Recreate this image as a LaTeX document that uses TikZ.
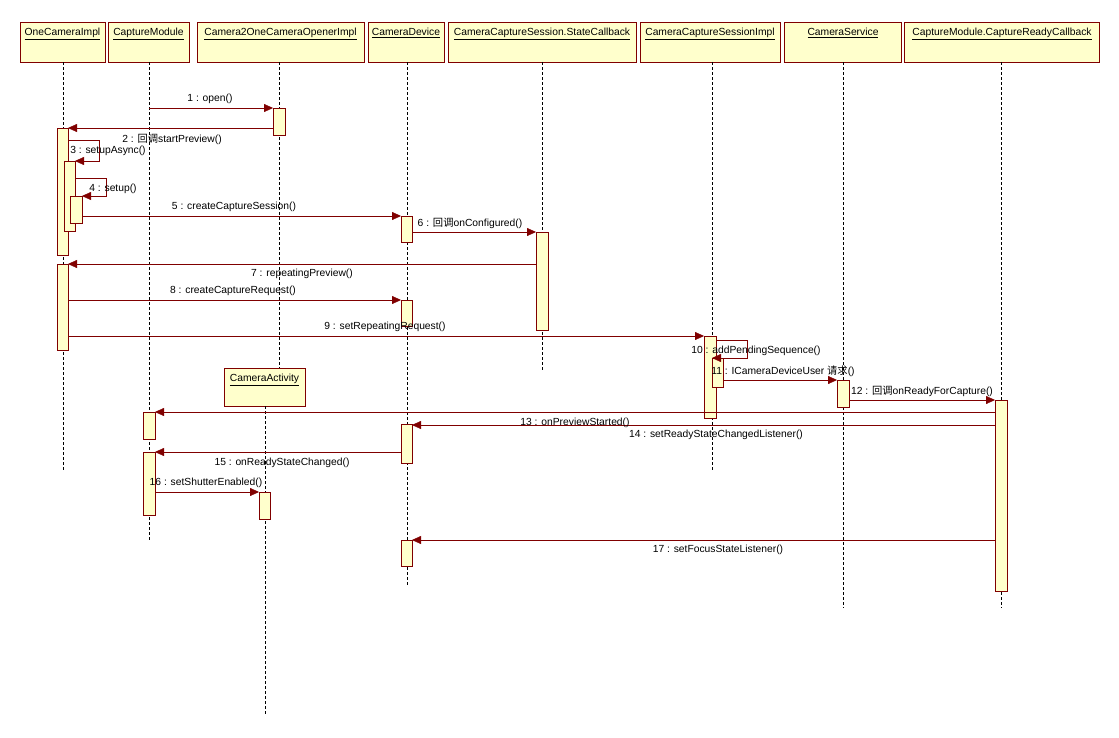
\documentclass[tikz,border=0pt]{standalone}
\usepackage{fontspec}
\setmainfont{Liberation Sans}
\newfontfamily\cjk{Noto Sans CJK SC}
\usetikzlibrary{arrows.meta}
\definecolor{umlred}{RGB}{128,0,0}
\definecolor{umlfill}{RGB}{255,255,204}
\newcommand{\cn}[1]{{\cjk #1}}
\newcommand{\obj}[6]{\node[head,minimum width=#4pt] (#1) at (#2,42) {};\node[below=3pt] at (#1.north) {\underline{#3}};\coordinate (#1end) at (#5,#6);\draw[life] (#5,62) -- (#1end);}
\newcommand{\act}[4]{\node[actbox,minimum height=#4pt-#3pt] (#1) at (#2,{(#3+#4)/2}) {};}
\newcommand{\callx}[7]{\coordinate (m#1s) at (#2,#4); \coordinate (m#1e) at (#3,#4); \draw[msg] (m#1s) -- (m#1e); \node[lbl] (m#1l) at (#5,#6) {#1 : #7};}
\newcommand{\selfcall}[7]{\coordinate (m#1s) at (#2,#4); \coordinate (m#1e) at (#2+#3,#5); \draw[msg] (m#1s) -- ++(31,0) |- (m#1e); \node[lbl] (m#1l) at (#6,#4+11) {#1 : #7};}

\begin{document}
\begin{tikzpicture}[x=1pt,y=-1pt,font=\fontsize{10.3}{12}\selectfont,
    head/.style={draw=umlred,fill=umlfill,rectangle,minimum height=40pt,inner sep=0pt},
    actbox/.style={draw=umlred,fill=umlfill,rectangle,minimum width=11.5pt,inner sep=0pt},
    life/.style={densely dashed,thin,black},
    msg/.style={umlred,-{Triangle[length=9pt,width=8pt]}},
    lbl/.style={inner sep=0pt,text=black}]
    \useasboundingbox[fill=white] (0,0) rectangle (1119,737);
    % objects and lifelines
    \obj{oci}{62.5}{OneCameraImpl}{85}{63}{470}
    \obj{cm}{148.5}{CaptureModule}{81}{149}{540}
    \obj{opener}{280.5}{Camera2OneCameraOpenerImpl}{167}{279}{370}
    \obj{dev}{406}{CameraDevice}{76}{407}{585}
    \obj{scb}{542}{CameraCaptureSession.StateCallback}{188}{542}{370}
    \obj{csi}{710}{CameraCaptureSessionImpl}{140}{712}{470}
    \obj{svc}{843}{CameraService}{117}{843}{608}
    \obj{crc}{1002}{CaptureModule.CaptureReadyCallback}{195}{1001}{608}
    \node[head,minimum width=81pt,minimum height=38pt] (ca) at (264.5,387) {};
    \node[below=3pt] at (ca.north) {\underline{CameraActivity}};
    \coordinate (caend) at (265,715); \draw[life] (265,406) -- (caend);
    % activations
    \act{a1}{279}{108}{135}
    \act{a2}{62.5}{128}{255}
    \act{a3}{69.5}{161}{231}
    \act{a4}{76}{196}{223}
    \act{a5}{406.5}{216}{242}
    \act{a6}{542}{232}{330}
    \act{a7}{62.5}{264}{350}
    \act{a8}{406.5}{300}{326}
    \act{a9}{710}{336}{418}
    \act{a10}{717.5}{358}{387}
    \act{a11}{843}{380}{407}
    \act{a12}{1001}{400}{591}
    \act{a13}{149}{412}{439}
    \act{a14}{406.5}{424}{463}
    \act{a15}{149}{452}{515}
    \act{a16}{264.5}{492}{519}
    \act{a17}{406.5}{540}{566}
    % messages
    \callx{1}{149}{273}{108}{210}{99}{open()}
    \callx{2}{273}{68}{128}{172}{139}{\cn{回调}startPreview()}
    \selfcall{3}{68}{7}{140}{161}{108}{setupAsync()}
    \selfcall{4}{75}{7}{178}{196}{113}{setup()}
    \callx{5}{82}{401}{216}{234}{207}{createCaptureSession()}
    \callx{6}{412}{536}{232}{470}{223}{\cn{回调}onConfigured()}
    \callx{7}{536}{68}{264}{302}{274}{repeatingPreview()}
    \callx{8}{68}{401}{300}{233}{291}{createCaptureRequest()}
    \callx{9}{68}{704}{336}{385}{327}{setRepeatingRequest()}
    \selfcall{10}{716}{-4}{340}{358}{756}{addPendingSequence()}
    \callx{11}{723}{837}{380}{783}{371}{ICameraDeviceUser \cn{请求}()}
    \callx{12}{849}{995}{400}{922}{391}{\cn{回调}onReadyForCapture()}
    \callx{14}{995}{155}{412}{716}{435}{setReadyStateChangedListener()}
    \callx{13}{995}{412}{425}{575}{423}{onPreviewStarted()}
    \callx{15}{401}{155}{452}{282}{463}{onReadyStateChanged()}
    \callx{16}{155}{259}{492}{206}{483}{setShutterEnabled()}
    \callx{17}{995}{412}{540}{718}{550}{setFocusStateListener()}
\end{tikzpicture}
\end{document}
